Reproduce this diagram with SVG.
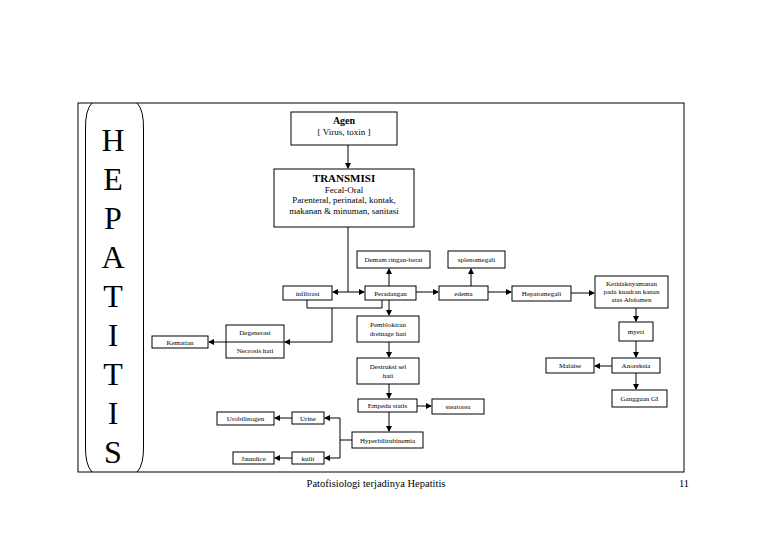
<svg xmlns="http://www.w3.org/2000/svg" width="768" height="543" viewBox="0 0 768 543">
<style>
.b{fill:#fff;stroke:#000;stroke-width:1}
.t{font-family:"Liberation Serif",serif;font-size:7px;fill:#000;text-anchor:middle}
.m{font-family:"Liberation Serif",serif;font-size:10px;fill:#000;text-anchor:middle}
.big{font-family:"Liberation Serif",serif;font-size:32px;fill:#000;text-anchor:middle}
.c{fill:none;stroke:#000;stroke-width:1}
</style>
<defs>
<marker id="a" markerWidth="6" markerHeight="6" refX="5" refY="3" orient="auto" markerUnits="userSpaceOnUse">
<path d="M0,0 L6,3 L0,6 Z" fill="#000"/>
</marker>
</defs>
<rect width="768" height="543" fill="#fff"/>
<g id="frame">
<rect x="78" y="103" width="606" height="369" fill="none" stroke="#000" stroke-width="1"/>
<path d="M92 103 Q85 110 85.5 130 L85.5 445 Q85 465 92 472" class="c"/>
<path d="M137 103 Q144 110 143.5 130 L143.5 445 Q144 465 137 472" class="c"/>
<text class="big" x="113" y="151">H</text>
<text class="big" x="113" y="190">E</text>
<text class="big" x="113" y="229">P</text>
<text class="big" x="113" y="268">A</text>
<text class="big" x="113" y="307">T</text>
<text class="big" x="113" y="346">I</text>
<text class="big" x="113" y="385">T</text>
<text class="big" x="113" y="424">I</text>
<text class="big" x="113" y="463">S</text>
<text class="m" x="376" y="487" style="font-size:10.5px">Patofisiologi terjadinya Hepatitis</text>
<text class="m" x="684" y="487" style="font-size:10.5px">11</text>
</g>
<g id="connectors">
<path class="c" d="M348 145 V168" marker-end="url(#a)"/>
<path class="c" d="M348 227 V292"/>
<path class="c" d="M348 292 H333" marker-end="url(#a)"/>
<path class="c" d="M348 292 H364" marker-end="url(#a)"/>
<path class="c" d="M389 286 V269" marker-end="url(#a)"/>
<path class="c" d="M416 292 H438" marker-end="url(#a)"/>
<path class="c" d="M471 286 V269" marker-end="url(#a)"/>
<path class="c" d="M488 292 H511" marker-end="url(#a)"/>
<path class="c" d="M571 293 H594" marker-end="url(#a)"/>
<path class="c" d="M636 308 V321" marker-end="url(#a)"/>
<path class="c" d="M636 341 V357" marker-end="url(#a)"/>
<path class="c" d="M612 366 H595" marker-end="url(#a)"/>
<path class="c" d="M636 373 V389" marker-end="url(#a)"/>
<path class="c" d="M307 300 V308 H382 V300"/>
<path class="c" d="M389 300 V315" marker-end="url(#a)"/>
<path class="c" d="M332 308 V342 H285" marker-end="url(#a)"/>
<path class="c" d="M226 342 H209" marker-end="url(#a)"/>
<path class="c" d="M389 342 V357" marker-end="url(#a)"/>
<path class="c" d="M389 384 V398" marker-end="url(#a)"/>
<path class="c" d="M417 406 H431" marker-end="url(#a)"/>
<path class="c" d="M389 412 V431" marker-end="url(#a)"/>
<path class="c" d="M352 440 H340"/>
<path class="c" d="M340 418 V458"/>
<path class="c" d="M340 418 H325" marker-end="url(#a)"/>
<path class="c" d="M340 458 H325" marker-end="url(#a)"/>
<path class="c" d="M292 418 H275" marker-end="url(#a)"/>
<path class="c" d="M292 458 H275" marker-end="url(#a)"/>
</g>
<g id="agen"><rect class="b" x="291" y="112" width="106" height="33"/>
<text class="m" x="344" y="124" font-weight="bold">Agen</text>
<text class="m" x="344" y="135" style="font-size:9px">[ Virus, toxin ]</text></g>
<g id="transmisi"><rect class="b" x="274" y="169" width="140" height="58"/>
<text class="m" x="344" y="182" font-weight="bold" style="font-size:11px">TRANSMISI</text>
<text class="m" x="344" y="193" style="font-size:9px">Fecal-Oral</text>
<text class="m" x="344" y="203" style="font-size:9px">Parenteral, perinatal, kontak,</text>
<text class="m" x="344" y="214" style="font-size:9px">makanan &amp; minuman, sanitasi</text></g>
<g id="demam"><rect class="b" x="357" y="251" width="73" height="17"/><text class="t" x="393.5" y="262">Demam ringan-berat</text></g>
<g id="splenomegali"><rect class="b" x="448" y="251" width="57" height="17"/><text class="t" x="476.5" y="262">splenomegali</text></g>
<g id="infiltrasi"><rect class="b" x="283" y="286" width="49" height="14"/><text class="t" x="307.5" y="295.5">infiltrasi</text></g>
<g id="peradangan"><rect class="b" x="365" y="286" width="51" height="14"/><text class="t" x="390.5" y="295.5">Peradangan</text></g>
<g id="edema"><rect class="b" x="439" y="286" width="49" height="14"/><text class="t" x="463.5" y="295.5">edema</text></g>
<g id="hepatomegali"><rect class="b" x="512" y="286" width="59" height="15"/><text class="t" x="541.5" y="296">Hepatomegali</text></g>
<g id="ketidaknyamanan"><rect class="b" x="595" y="276" width="73" height="32"/>
<text class="t" x="631.5" y="286">Ketidaknyamanan</text>
<text class="t" x="631.5" y="294">pada kuadran kanan</text>
<text class="t" x="631.5" y="302">atas Abdomen</text></g>
<g id="myeri"><rect class="b" x="619" y="322" width="34" height="19"/><text class="t" x="636" y="334">myeri</text></g>
<g id="anoreksia"><rect class="b" x="612" y="358" width="48" height="15"/><text class="t" x="636" y="368">Anoreksia</text></g>
<g id="malaise"><rect class="b" x="546" y="358" width="48" height="15"/><text class="t" x="570" y="368">Malaise</text></g>
<g id="gangguan"><rect class="b" x="612" y="390" width="55" height="17"/><text class="t" x="639.5" y="401">Gangguan GI</text></g>
<g id="pemblokiran"><rect class="b" x="357" y="316" width="62" height="26"/>
<text class="t" x="388" y="327">Pemblokiran</text><text class="t" x="388" y="336">dreinage hati</text></g>
<g id="destruksi"><rect class="b" x="357" y="358" width="62" height="26"/>
<text class="t" x="388" y="369">Destruksi sel</text><text class="t" x="388" y="378">hati</text></g>
<g id="degenerasi"><rect class="b" x="226" y="325" width="58" height="33"/>
<line x1="226" y1="342" x2="284" y2="342" stroke="#000" stroke-width="1"/>
<text class="t" x="255" y="335">Degenerasi</text><text class="t" x="255" y="353">Necrosis hati</text></g>
<g id="kematian"><rect class="b" x="152" y="336" width="56" height="12"/><text class="t" x="180" y="344.5">Kematian</text></g>
<g id="empedu"><rect class="b" x="358" y="399" width="59" height="13"/><text class="t" x="387.5" y="408">Empedu statis</text></g>
<g id="steatorea"><rect class="b" x="432" y="399" width="52" height="15"/><text class="t" x="458" y="409">steatorea</text></g>
<g id="hyperbilirubinemia"><rect class="b" x="352" y="432" width="71" height="16"/><text class="t" x="387.5" y="442.5">Hyperbilirubinemia</text></g>
<g id="urine"><rect class="b" x="292" y="412" width="32" height="12"/><text class="t" x="308" y="420.5">Urine</text></g>
<g id="urobilinogen"><rect class="b" x="217" y="412" width="57" height="13"/><text class="t" x="245.5" y="421">Urobilinogen</text></g>
<g id="kulit"><rect class="b" x="292" y="452" width="32" height="12"/><text class="t" x="308" y="460.5">kulit</text></g>
<g id="jaundice"><rect class="b" x="233" y="452" width="41" height="12"/><text class="t" x="253.5" y="460.5">Jaundice</text></g>
</svg>
